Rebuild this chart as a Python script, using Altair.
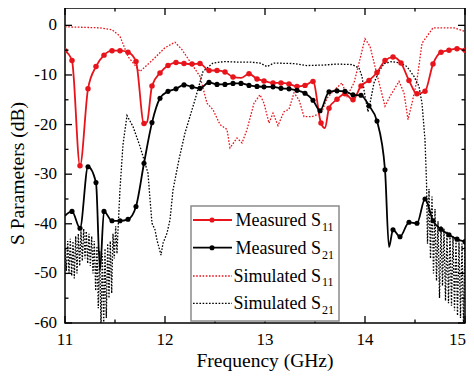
import altair as alt
import pandas as pd

# ---------------- data ----------------
meas_s11_f = [11.00, 11.07, 11.15, 11.23, 11.31, 11.39, 11.47, 11.55, 11.63, 11.71, 11.79, 11.82,
              11.87, 11.95, 12.03, 12.11, 12.19, 12.27, 12.35, 12.44, 12.52, 12.60, 12.68, 12.76,
              12.84, 12.92, 12.99, 13.08, 13.16, 13.24, 13.32, 13.40, 13.48, 13.56, 13.60, 13.64,
              13.72, 13.80, 13.88, 13.96, 14.04, 14.12, 14.20, 14.28, 14.36, 14.44, 14.52, 14.60,
              14.68, 14.76, 14.84, 14.92, 15.00]
meas_s11_db = [-5.1, -7.1, -28.3, -12.8, -8.3, -6.0, -5.1, -5.1, -5.4, -7.3, -19.8, -19.5,
               -12.2, -9.6, -8.1, -7.5, -7.7, -7.8, -7.7, -9.1, -9.1, -9.4, -10.4, -10.6,
               -9.75, -10.8, -11.2, -11.6, -11.6, -11.8, -12.3, -12.1, -11.3, -19.7, -20.7, -16.7,
               -14.9, -13.8, -15.0, -12.2, -11.1, -9.5, -7.1, -6.4, -7.6, -11.1, -13.8, -13.3,
               -7.8, -5.4, -5.0, -4.7, -5.0]
meas_s11_dot_f = [11.00, 11.07, 11.15, 11.23, 11.31, 11.39, 11.47, 11.55, 11.63, 11.71, 11.79,
                  11.87, 11.95, 12.03, 12.11, 12.19, 12.27, 12.35, 12.44, 12.52, 12.60, 12.68,
                  12.84, 12.92, 12.99, 13.08, 13.16, 13.24, 13.32, 13.40, 13.48, 13.56, 13.64,
                  13.72, 13.80, 13.88, 13.96, 14.04, 14.12, 14.20, 14.28, 14.36, 14.44, 14.52,
                  14.60, 14.68, 14.76, 14.84, 14.92, 15.00]
meas_s11_dot_db = [-5.1, -7.1, -28.3, -12.8, -8.3, -6.0, -5.1, -5.1, -5.4, -7.3, -19.8,
                   -12.2, -9.6, -8.1, -7.5, -7.7, -7.8, -7.7, -9.1, -9.1, -9.4, -10.4,
                   -9.75, -10.8, -11.2, -11.6, -11.6, -11.8, -12.3, -12.1, -11.3, -19.7, -16.7,
                   -14.9, -13.8, -15.0, -12.2, -11.1, -9.5, -7.1, -6.4, -7.6, -11.1, -13.8,
                   -13.3, -7.8, -5.4, -5.0, -4.7, -5.0]

meas_s21_f = [11.00, 11.07, 11.15, 11.23, 11.31, 11.35, 11.39, 11.47, 11.55, 11.63, 11.71,
              11.79, 11.87, 11.95, 12.03, 12.11, 12.19, 12.27, 12.35, 12.44, 12.52, 12.60,
              12.68, 12.76, 12.84, 12.92, 12.99, 13.08, 13.16, 13.24, 13.32, 13.40, 13.48,
              13.55, 13.64, 13.72, 13.80, 13.88, 13.96, 14.04, 14.12, 14.20, 14.24, 14.28,
              14.35, 14.44, 14.52, 14.60, 14.68, 14.76, 14.84, 14.92, 15.00]
meas_s21_db = [-38.4, -37.5, -40.9, -28.5, -31.7, -49.3, -37.5, -39.4, -39.4, -39.1, -36.5,
               -27.8, -19.6, -14.7, -13.3, -12.8, -12.0, -12.4, -12.7, -11.5, -11.9, -11.9,
               -11.7, -11.7, -12.1, -12.3, -12.4, -12.4, -12.7, -12.8, -13.1, -13.7, -15.1,
               -17.2, -13.4, -13.2, -13.3, -14.0, -14.1, -16.2, -19.3, -29.1, -44.7, -41.2,
               -42.6, -39.7, -39.9, -35.0, -39.4, -41.1, -42.2, -43.1, -43.6]
meas_s21_dot_f = [11.07, 11.15, 11.23, 11.31, 11.39, 11.47, 11.55, 11.63, 11.71,
                  11.79, 11.87, 11.95, 12.03, 12.11, 12.19, 12.27, 12.35, 12.44, 12.52, 12.60,
                  12.68, 12.76, 12.84, 12.92, 12.99, 13.08, 13.16, 13.24, 13.32, 13.40, 13.48,
                  13.55, 13.64, 13.72, 13.80, 13.88, 13.96, 14.04, 14.12, 14.20, 14.28,
                  14.35, 14.44, 14.52, 14.60, 14.68, 14.76, 14.84, 14.92, 15.00]
meas_s21_dot_db = [-37.5, -40.9, -28.5, -31.7, -37.5, -39.4, -39.4, -39.1, -36.5,
                   -27.8, -19.6, -14.7, -13.3, -12.8, -12.0, -12.4, -12.7, -11.5, -11.9, -11.9,
                   -11.7, -11.7, -12.1, -12.3, -12.4, -12.4, -12.7, -12.8, -13.1, -13.7, -15.1,
                   -17.2, -13.4, -13.2, -13.3, -14.0, -14.1, -16.2, -19.3, -29.1, -41.2,
                   -42.6, -39.7, -39.9, -35.0, -39.4, -41.1, -42.2, -43.1, -43.6]

sim_s11_f = [11.00, 11.20, 11.35, 11.47, 11.55, 11.63, 11.75, 11.88, 12.00, 12.10, 12.17,
             12.35, 12.42, 12.48, 12.55, 12.62, 12.65, 12.72, 12.77, 12.82, 12.89, 12.95,
             12.99, 13.04, 13.08, 13.13, 13.19, 13.24, 13.29, 13.34, 13.39, 13.47, 13.52,
             13.57, 13.62, 13.69, 13.77, 13.82, 13.89, 13.94, 14.00, 14.05, 14.10, 14.15,
             14.20, 14.25, 14.34, 14.39, 14.43, 14.47, 14.52, 14.57, 14.62, 14.68, 14.89, 15.00]
sim_s11_db = [-0.3, -0.4, -0.5, -0.9, -2.2, -6.3, -9.3, -6.9, -4.5, -3.4, -4.9,
              -10.3, -15.7, -17.0, -20.0, -21.0, -24.7, -22.7, -23.7, -21.0, -15.7, -14.0,
              -15.7, -19.7, -17.7, -20.2, -17.4, -16.9, -13.6, -15.0, -18.4, -18.4, -18.0,
              -17.4, -14.7, -13.1, -11.6, -14.3, -11.6, -7.6, -2.7, -4.2, -8.3, -12.3,
              -16.3, -14.3, -11.3, -13.6, -19.0, -15.7, -11.0, -3.6, -2.2, -0.5, -0.5, -1.2]

sim_s21_f = [11.000, 11.013, 11.027, 11.040, 11.053, 11.067, 11.080, 11.093, 11.107, 11.120,
             11.133, 11.147, 11.160, 11.173, 11.187, 11.200, 11.213, 11.227, 11.240, 11.253,
             11.267, 11.280, 11.293, 11.307, 11.320, 11.333, 11.347, 11.360, 11.373, 11.387,
             11.400, 11.413, 11.427, 11.440, 11.453, 11.467, 11.480, 11.493, 11.507, 11.520,
             11.533, 11.55, 11.58, 11.62, 11.68, 11.75, 11.83, 11.85, 11.87, 11.90, 11.92,
             11.96, 11.98, 12.02, 12.05, 12.08, 12.14, 12.20, 12.30, 12.38, 12.48, 12.59,
             12.72, 12.85, 12.95, 13.02, 13.09, 13.29, 13.42, 13.59, 13.72, 13.87, 13.94,
             13.97, 14.00, 14.03, 14.05, 14.09, 14.14, 14.19, 14.27, 14.35, 14.42, 14.49,
             14.54, 14.57, 14.600, 14.615, 14.625, 14.640, 14.655, 14.670, 14.685, 14.700,
             14.715, 14.730, 14.745, 14.760, 14.775, 14.790, 14.805, 14.820, 14.835, 14.850,
             14.865, 14.880, 14.895, 14.910, 14.925, 14.940, 14.955, 14.970, 14.985, 15.000]
sim_s21_db = [-45.0, -49.5, -43.5, -50.0, -43.0, -50.5, -43.5, -51.0, -42.5, -50.0,
              -42.0, -48.5, -41.5, -47.5, -41.0, -47.0, -41.5, -48.0, -42.0, -48.5,
              -42.5, -50.0, -43.5, -53.5, -44.5, -57.0, -45.5, -61.0, -46.0, -60.5,
              -45.0, -59.0, -44.0, -55.0, -43.5, -54.0, -42.0, -47.0, -40.5, -46.0,
              -40.0, -33.0, -24.0, -18.2, -20.4, -24.4, -29.8, -35.0, -39.9, -41.2, -43.3,
              -46.3, -43.9, -41.9, -39.2, -33.2, -27.0, -21.7, -15.0, -9.3, -7.6, -7.3,
              -7.4, -7.4, -7.6, -8.3, -7.6, -7.7, -8.1, -8.0, -7.8, -7.9, -8.6,
              -10.3, -14.3, -17.4, -15.7, -11.6, -9.3, -7.7, -7.3, -7.6, -8.3, -10.3,
              -12.3, -15.7, -23.1, -31.5, -44.0, -33.0, -47.0, -34.5, -50.0, -37.0,
              -51.5, -39.5, -55.0, -40.5, -52.5, -41.0, -55.5, -41.5, -56.0, -42.0,
              -56.5, -42.5, -57.5, -43.0, -58.5, -43.5, -59.0, -44.0, -60.5, -44.0]

legend_labels = ["Measured S", "Measured S", "Simulated S", "Simulated S"]
legend_subs = ["11", "21", "11", "21"]

x_title = "Frequency (GHz)"
y_title = "S Parameters (dB)"
x_ticks_major = [11, 12, 13, 14, 15]
x_ticks_minor = [11.5, 12.5, 13.5, 14.5]
y_ticks_major = [-60, -50, -40, -30, -20, -10, 0]
y_ticks_minor = [-55, -45, -35, -25, -15, -5]

# ---------------- styling ----------------
RED = "#e8141c"
FONT = "Liberation Serif, Times New Roman, serif"
W, H = 400, 315

xscale = alt.Scale(domain=[11, 15], nice=False, zero=False)
yscale = alt.Scale(domain=[-60, 3.5], nice=False, zero=False)


def df(f, v):
    return pd.DataFrame({"f": f, "v": v})


def X():
    return alt.X("f:Q", scale=xscale, axis=None)


def Y():
    return alt.Y("v:Q", scale=yscale, axis=None)


sim11 = alt.Chart(df(sim_s11_f, sim_s11_db)).mark_line(
    color=RED, strokeWidth=1.3, strokeDash=[1.6, 1.6], clip=True
).encode(x=X(), y=Y())

sim21 = alt.Chart(df(sim_s21_f, sim_s21_db)).mark_line(
    color="black", strokeWidth=1.3, strokeDash=[1.6, 1.6], clip=True
).encode(x=X(), y=Y())

m11 = alt.Chart(df(meas_s11_f, meas_s11_db)).mark_line(
    color=RED, strokeWidth=1.8, interpolate="monotone", clip=True
).encode(x=X(), y=Y())

m21 = alt.Chart(df(meas_s21_f, meas_s21_db)).mark_line(
    color="black", strokeWidth=1.8, interpolate="monotone", clip=True
).encode(x=X(), y=Y())

m11p = alt.Chart(df(meas_s11_dot_f, meas_s11_dot_db)).mark_point(
    filled=True, color=RED, size=30, opacity=1, clip=True
).encode(x=X(), y=Y())

m21p = alt.Chart(df(meas_s21_dot_f, meas_s21_dot_db)).mark_point(
    filled=True, color="black", size=26, opacity=1, clip=True
).encode(x=X(), y=Y())

# ---------------- inward ticks on all four sides ----------------
tick_style = dict(color="black", strokeWidth=1.3)
tick_layers = []
for vals, ln in ((x_ticks_major, 7), (x_ticks_minor, 3.5)):
    d = pd.DataFrame({"f": vals})
    tick_layers.append(alt.Chart(d).mark_rule(**tick_style).encode(
        x=X(), y=alt.value(H), y2=alt.value(H - ln)))
    tick_layers.append(alt.Chart(d).mark_rule(**tick_style).encode(
        x=X(), y=alt.value(0), y2=alt.value(ln)))
for vals, ln in ((y_ticks_major, 7), (y_ticks_minor, 3.5)):
    d = pd.DataFrame({"v": vals})
    tick_layers.append(alt.Chart(d).mark_rule(**tick_style).encode(
        y=Y(), x=alt.value(0), x2=alt.value(ln)))
    tick_layers.append(alt.Chart(d).mark_rule(**tick_style).encode(
        y=Y(), x=alt.value(W), x2=alt.value(W - ln)))

# ---------------- tick labels and axis titles (as text marks) ----------------
xlab_inner = pd.DataFrame({"f": x_ticks_major[:-1], "t": [str(v) for v in x_ticks_major[:-1]]})
xlab_last = pd.DataFrame({"f": x_ticks_major[-1:], "t": [str(v) for v in x_ticks_major[-1:]]})
ylab = pd.DataFrame({"v": y_ticks_major, "t": [str(v) for v in y_ticks_major]})
one = pd.DataFrame({"k": [0]})

label_layers = [
    alt.Chart(xlab_inner).mark_text(font=FONT, fontSize=17, align="center", baseline="alphabetic",
                                    color="black").encode(x=X(), y=alt.value(H + 22), text="t:N"),
    alt.Chart(xlab_last).mark_text(font=FONT, fontSize=17, align="right", baseline="alphabetic",
                                   dx=1, color="black").encode(x=X(), y=alt.value(H + 22), text="t:N"),
    alt.Chart(ylab).mark_text(font=FONT, fontSize=17, align="right", baseline="middle",
                              color="black").encode(y=Y(), x=alt.value(-8), text="t:N"),
    alt.Chart(one).mark_text(text=x_title, font=FONT, fontSize=19.5, align="center",
                             baseline="alphabetic", color="black").encode(
        x=alt.value(W / 2), y=alt.value(H + 44)),
    alt.Chart(one).mark_text(text=y_title, font=FONT, fontSize=19.5, align="center",
                             baseline="alphabetic", angle=270, color="black").encode(
        x=alt.value(-41), y=alt.value(H / 2 + 8)),
]

# ---------------- legend ----------------
box = alt.Chart(one).mark_rect(fill="white", stroke="#8a8a8a", strokeWidth=1.5).encode(
    x=alt.value(126), x2=alt.value(274), y=alt.value(198), y2=alt.value(313))

row_line_y = [212, 239.7, 268, 295.3]
row_text_y = [218, 245.8, 273.6, 301.4]
row_colors = [RED, "black", RED, "black"]
row_dash = [None, None, [1.6, 1.6], [1.6, 1.6]]

legend_layers = [box]
for i in range(4):
    kw = dict(color=row_colors[i], strokeWidth=1.8 if row_dash[i] is None else 1.3)
    if row_dash[i] is not None:
        kw["strokeDash"] = row_dash[i]
    legend_layers.append(alt.Chart(one).mark_rule(**kw).encode(
        x=alt.value(128), x2=alt.value(167), y=alt.value(row_line_y[i])))
    if row_dash[i] is None:
        legend_layers.append(alt.Chart(one).mark_point(
            filled=True, color=row_colors[i], size=26, opacity=1).encode(
            x=alt.value(147), y=alt.value(row_line_y[i])))
    legend_layers.append(alt.Chart(one).mark_text(
        text=legend_labels[i], font=FONT, fontSize=18, align="right", baseline="alphabetic",
        color="black").encode(x=alt.value(256), y=alt.value(row_text_y[i])))
    legend_layers.append(alt.Chart(one).mark_text(
        text=legend_subs[i], font=FONT, fontSize=12, align="left", baseline="alphabetic",
        color="black").encode(x=alt.value(257), y=alt.value(row_text_y[i] + 4.7)))

chart = alt.layer(sim11, sim21, m11, m21, m11p, m21p, *tick_layers, *label_layers,
                  *legend_layers).properties(
    width=W, height=H,
    autosize=alt.AutoSizeParams(type="none"),
    padding={"left": 57, "top": 0, "right": 1, "bottom": 48},
).configure_view(
    stroke="black", strokeWidth=1.5
)

chart.save("out.html", embed_options={"renderer": "svg", "actions": False})
